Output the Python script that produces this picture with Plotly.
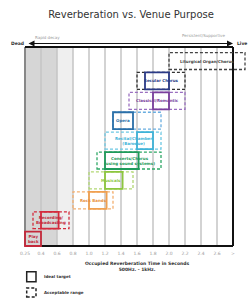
import plotly.graph_objects as go

# ---- data ----
venues = ["Play<br>back", "Recording/<br>Broadcasting", "Rock Bands", "Musicals",
          "Concerts/Chorus<br>(using sound systems)", "Recital/Chamber<br>(Baroque)",
          "Opera", "Classical/Romantic", "Secular Chorus", "Liturgical Organ/Chorus"]
ideal_lo = [0.2, 0.4, 1.0, 1.2, 1.2, 1.6, 1.3, 1.8, 1.7, None]
ideal_hi = [0.4, 0.62, 1.22, 1.42, 1.62, 1.8, 1.55, 2.0, 2.0, None]
accept_lo = [None, 0.3, 0.8, 1.0, 1.1, 1.2, 1.3, 1.5, 1.6, 2.0]
accept_hi = [None, 0.75, 1.3, 1.55, 1.9, 1.9, 1.9, 2.2, 2.2, 2.95]
tick_vals = [0.2, 0.4, 0.6, 0.8, 1.0, 1.2, 1.4, 1.6, 1.8, 2.0, 2.2, 2.4, 2.6, 2.8]
tick_text = ["0.25", "0.4", "0.6", "0.8", "1.0", "1.2", "1.4", "1.6", "1.8", "2.0",
             "2.2", "2.4", "2.6", ">"]

# ---- styles ----
solid_col = ["#c4283a", "#d42a3c", "#f0a050", "#8dc63f", "#1f9a5a", "#3fb3d8",
             "#2a6fa8", "#7a3f9d", "#2b3a86", "#444444"]
dash_col = ["#c4283a", "#d42a3c", "#f3b070", "#b2d874", "#2ea866", "#6cc8e4",
            "#6aaee0", "#9a6fc0", "#333333", "#444444"]
text_col = ["#c4283a", "#c4283a", "#e8903c", "#8dc63f", "#1f9a5a", "#3fb3d8",
            "#2a6fa8", "#7a3f9d", "#2b3a86", "#444444"]
FONT = "DejaVu Sans"
W, H = 249, 300
ML, MR, MT, MB = 21, 0, 45, 52


def px_x(p):
    return (p - ML) / (W - ML - MR)


def px_y(p):
    return (H - MB - p) / (H - MT - MB)


shapes = []
ann = []
# background shading
shapes.append(dict(type="rect", xref="x", yref="y", x0=0.2, x1=0.6, y0=0, y1=10,
                   fillcolor="#d6d6d6", line_width=0, layer="below"))
shapes.append(dict(type="rect", xref="x", yref="y", x0=0.6, x1=0.8, y0=0, y1=10,
                   fillcolor="#efefef", line_width=0, layer="below"))
# gridlines
for v in tick_vals[1:-1]:
    shapes.append(dict(type="line", xref="x", yref="y", x0=v, x1=v, y0=0, y1=10,
                       line=dict(color="#c4c4c4", width=1.5), layer="below"))
# frame
shapes.append(dict(type="line", xref="x", yref="y", x0=0.2, x1=0.2, y0=0, y1=10,
                   line=dict(color="#888888", width=2)))
shapes.append(dict(type="line", xref="x", yref="y", x0=0.2, x1=2.8, y0=0, y1=0,
                   line=dict(color="#111111", width=2)))
shapes.append(dict(type="line", xref="x", yref="y", x0=0.2, x1=2.8, y0=10, y1=10,
                   line=dict(color="#111111", width=2)))
shapes.append(dict(type="line", xref="x", yref="y", x0=2.8, x1=2.8, y0=0, y1=10,
                   line=dict(color="#111111", width=2)))

for i, name in enumerate(venues):
    y0 = max(i - 0.13, 0)
    y1 = i + 0.72
    if accept_lo[i] is not None:
        shapes.append(dict(type="rect", xref="x", yref="y", x0=accept_lo[i], x1=accept_hi[i],
                           y0=y0, y1=y1, line=dict(color=dash_col[i], width=1.3, dash="3px,2px")))
    if ideal_lo[i] is not None:
        shapes.append(dict(type="rect", xref="x", yref="y", x0=ideal_lo[i], x1=ideal_hi[i],
                           y0=y0, y1=y1, line=dict(color=solid_col[i], width=1.8)))
    if name == "Opera":
        lx = (ideal_lo[i] + ideal_hi[i]) / 2
    elif accept_lo[i] is not None:
        lx = (accept_lo[i] + accept_hi[i]) / 2
    else:
        lx = (ideal_lo[i] + ideal_hi[i]) / 2
    ann.append(dict(x=lx, y=(y0 + y1) / 2, xref="x", yref="y", text="<b>" + name + "</b>",
                    xanchor="center", yanchor="middle",
                    showarrow=False, font=dict(family=FONT, size=4, color=text_col[i])))


def label(x, y, text, size, color, xanchor="center"):
    ann.append(dict(x=px_x(x), y=px_y(y), xref="paper", yref="paper", text=text,
                    xanchor=xanchor, yanchor="middle", showarrow=False,
                    font=dict(family=FONT, size=size, color=color)))


# top arrow and labels
ann.append(dict(x=px_x(233), y=px_y(43.5), xref="paper", yref="paper", text="",
                xanchor="center", yanchor="middle",
                showarrow=True, axref="pixel", ayref="pixel", ax=-(233 - 27), ay=0,
                arrowside="end+start", arrowhead=2, arrowsize=1, arrowwidth=1.2,
                arrowcolor="#111111"))
label(17, 43.5, "<b>Dead</b>", 4.5, "#333333")
label(241.5, 43.5, "<b>Live</b>", 4.5, "#333333")
label(47.5, 37, "Rapid decay", 4, "#999999")
label(203, 36, "Persistent/Supportive", 4, "#999999")
# axis title
label(137, 266, "<b>Occupied Reverberation Time in Seconds<br>500Hz. - 1kHz.</b>", 4.5, "#333333")
# legend
shapes.append(dict(type="rect", xref="paper", yref="paper", x0=px_x(26.7), x1=px_x(36),
                   y0=px_y(281.7), y1=px_y(271.7), line=dict(color="#222222", width=1.5)))
shapes.append(dict(type="rect", xref="paper", yref="paper", x0=px_x(26.7), x1=px_x(36),
                   y0=px_y(297), y1=px_y(288), line=dict(color="#222222", width=1.5, dash="3px,2px")))
label(41.5, 276.7, "<b>Ideal target</b>", 4, "#333333", xanchor="left")
label(41.5, 292.5, "<b>Acceptable range</b>", 4, "#333333", xanchor="left")

fig = go.Figure()
fig.add_trace(go.Scatter(x=[0.2, 2.8], y=[0, 10], mode="markers", marker=dict(opacity=0),
                         hoverinfo="skip", showlegend=False))
fig.update_layout(
    width=W, height=H, margin=dict(l=ML, r=MR, t=MT, b=MB),
    paper_bgcolor="white", plot_bgcolor="white", showlegend=False,
    title=dict(text="Reverberation vs. Venue Purpose", x=131 / W, xanchor="center",
               y=1 - 14 / H, yanchor="middle", yref="container",
               font=dict(family=FONT, size=10, color="#333333")),
    xaxis=dict(range=[0.15, 3.0], showgrid=False, zeroline=False, showline=False,
               tickvals=tick_vals, ticktext=tick_text, ticks="outside", ticklen=1,
               tickcolor="rgba(0,0,0,0)", tickfont=dict(family=FONT, size=4.5, color="#999999"),
               fixedrange=True),
    yaxis=dict(range=[-0.1, 10.1], visible=False, fixedrange=True),
    shapes=shapes, annotations=ann,
)
fig.write_html("out.html")
